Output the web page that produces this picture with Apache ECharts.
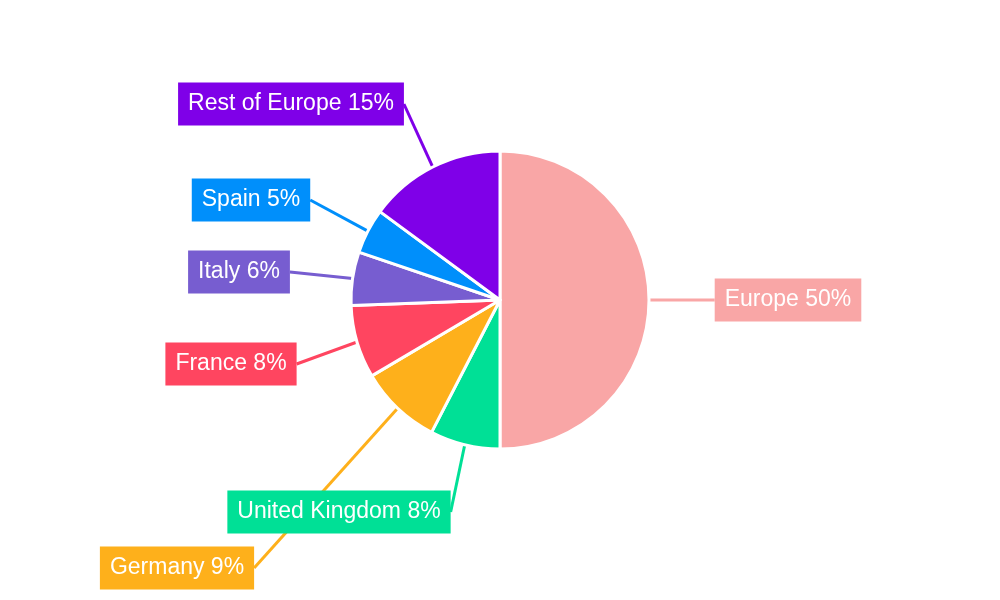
<!DOCTYPE html>
<html><head><meta charset="utf-8">
<script src="https://cdn.jsdelivr.net/npm/echarts@6/dist/echarts.min.js"></script>
<style>html,body{margin:0;padding:0;background:#fff}#c{width:1000px;height:600px}</style>
</head><body><div id="c"></div>
<script>
const categories = ["Europe","United Kingdom","Germany","France","Italy","Spain","Rest of Europe"];
const values = [50, 7.6, 8.9, 7.9, 5.8, 4.9, 14.9];
const colors = ["#f9a6a6","#00e096","#feb01b","#ff4560","#775dd0","#008ffb","#7f00e8"];
const labelPos = [[788,300],[339,512],[177,568],[231,364],[239,272],[251,200],[291,104]];
const chart = echarts.init(document.getElementById('c'));
chart.setOption({
  animation:false,
  series:[{
    type:'pie', center:[500,300], radius:[0,149], startAngle:90, clockwise:true,
    itemStyle:{borderColor:'#fff',borderWidth:3},
    data: categories.map((n,i)=>({name:n,value:values[i],itemStyle:{color:colors[i]},
      label:{backgroundColor:colors[i]}, labelLine:{lineStyle:{color:colors[i]}}})),
    label:{show:true,position:'outside',color:'#fff',fontFamily:'Liberation Sans, Arial',fontSize:23,
      padding:[10,10,10,10],formatter:p=>p.name+' '+Math.round(p.percent)+'%'},
    labelLine:{show:true,length:20,length2:0,lineStyle:{width:3}},
    labelLayout:function(p){const q=labelPos[p.dataIndex];return {x:q[0],y:q[1],align:'center',verticalAlign:'middle',moveOverlap:null};}
  }]
});
</script></body></html>
